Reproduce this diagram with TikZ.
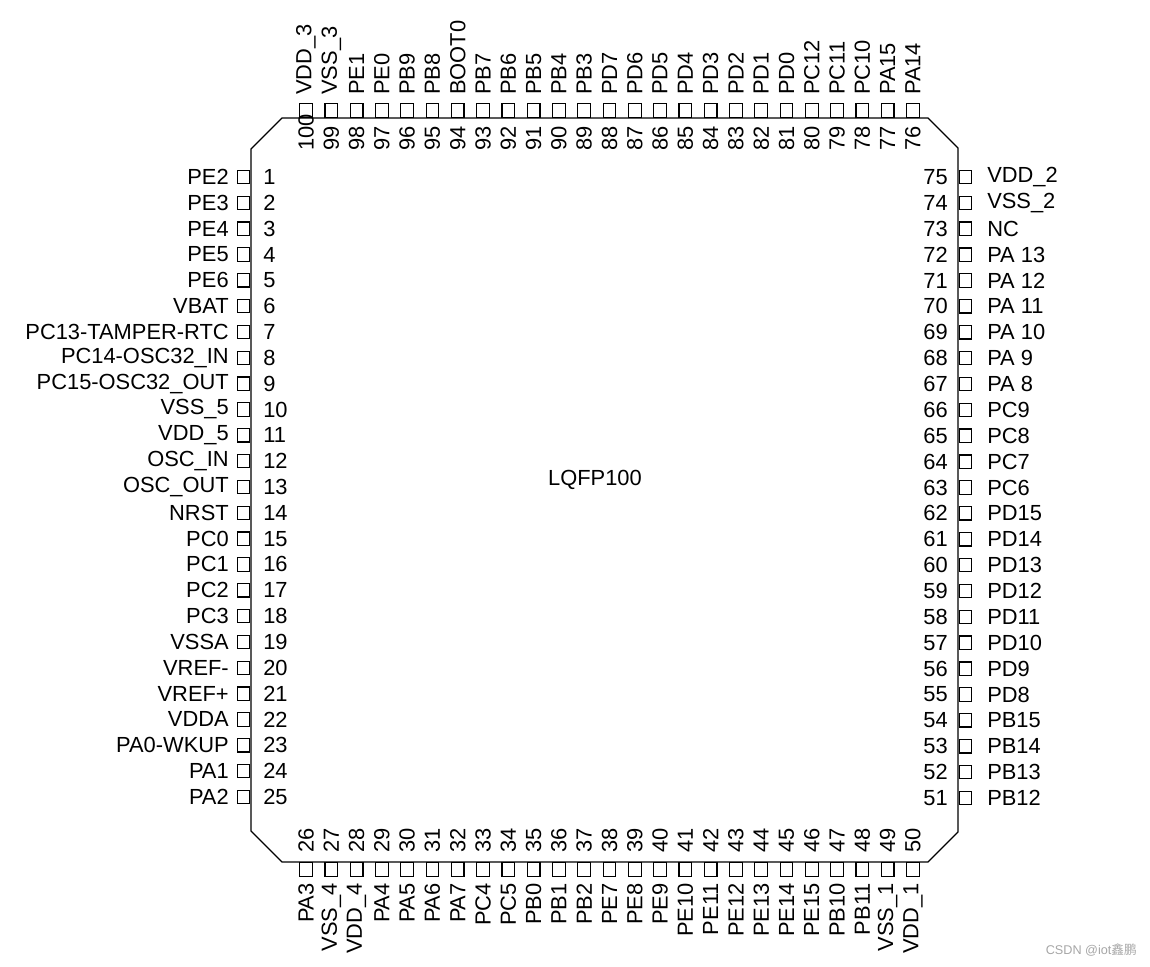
\documentclass[tikz,border=0pt]{standalone}
\usepackage{fontspec}
\setmainfont{Liberation Sans}
\newfontfamily\cjk{Noto Sans CJK SC}
\begin{document}
\begin{tikzpicture}[x=0.75pt,y=-0.75pt,
  pin/.style={draw,line width=0.9pt,minimum width=9.5pt,minimum height=10pt,inner sep=0pt},
  lbl/.style={font=\fontsize{16.4}{18}\selectfont,inner sep=0pt},
  body/.style={draw,line width=1pt}]
\useasboundingbox (0,0) rectangle (1150,967);
\draw[body] (282,118) -- (928,118) -- (958,148) -- (958,832) -- (928,862) -- (282,862) -- (251,831) -- (251,149) -- cycle;
\node[lbl] (title) at (595,480) {LQFP100};
% left
\foreach \n [count=\i] in {PE2,PE3,PE4,PE5,PE6,VBAT,PC13-TAMPER-RTC,PC14-OSC32\_IN,PC15-OSC32\_OUT,VSS\_5,VDD\_5,OSC\_IN,OSC\_OUT,NRST,PC0,PC1,PC2,PC3,VSSA,VREF-,VREF+,VDDA,PA0-WKUP,PA1,PA2}{
  \pgfmathsetmacro\yy{177+(\i-1)*25.83}
  \node[pin] (L\i) at (243.5,\yy) {};
  \node[lbl,anchor=east] (LN\i) at (229,\yy) {\n};
  \node[lbl,anchor=west] (LI\i) at (263,\yy) {\i};
}
% right
\foreach \n [count=\i] in {VDD\_2,VSS\_2,NC,PA 13,PA 12,PA 11,PA 10,PA 9,PA 8,PC9,PC8,PC7,PC6,PD15,PD14,PD13,PD12,PD11,PD10,PD9,PD8,PB15,PB14,PB13,PB12}{
  \pgfmathsetmacro\yy{177+(\i-1)*25.875}
  \pgfmathtruncatemacro\k{76-\i}
  \node[pin] (R\k) at (965.5,\yy) {};
  \node[lbl,anchor=west] (RN\k) at (987,\yy) {\n};
  \node[lbl,anchor=east] (RI\k) at (948,\yy) {\k};
}
% top
\foreach \n [count=\i] in {VDD\_3,VSS\_3,PE1,PE0,PB9,PB8,BOOT0,PB7,PB6,PB5,PB4,PB3,PD7,PD6,PD5,PD4,PD3,PD2,PD1,PD0,PC12,PC11,PC10,PA15,PA14}{
  \pgfmathsetmacro\xx{306+(\i-1)*25.29}
  \pgfmathtruncatemacro\k{101-\i}
  \node[pin] (T\k) at (\xx,110.5) {};
  \node[lbl,anchor=west,rotate=90] (TN\k) at (\xx,95) {\n};
  \node[lbl,anchor=west,rotate=90] (TI\k) at (\xx,151) {\k};
}
% bottom
\foreach \n [count=\i] in {PA3,VSS\_4,VDD\_4,PA4,PA5,PA6,PA7,PC4,PC5,PB0,PB1,PB2,PE7,PE8,PE9,PE10,PE11,PE12,PE13,PE14,PE15,PB10,PB11,VSS\_1,VDD\_1}{
  \pgfmathsetmacro\xx{306+(\i-1)*25.29}
  \pgfmathtruncatemacro\k{25+\i}
  \node[pin] (B\k) at (\xx,869.5) {};
  \node[lbl,anchor=east,rotate=90] (BN\k) at (\xx,883) {\n};
  \node[lbl,anchor=west,rotate=90] (BI\k) at (\xx,853) {\k};
}
\node[anchor=east,text=gray!70,font=\fontsize{9.5}{11}\selectfont,inner sep=0pt] (wm) at (1137,950) {CSDN @iot{\cjk 鑫鹏}};
\end{tikzpicture}
\end{document}
